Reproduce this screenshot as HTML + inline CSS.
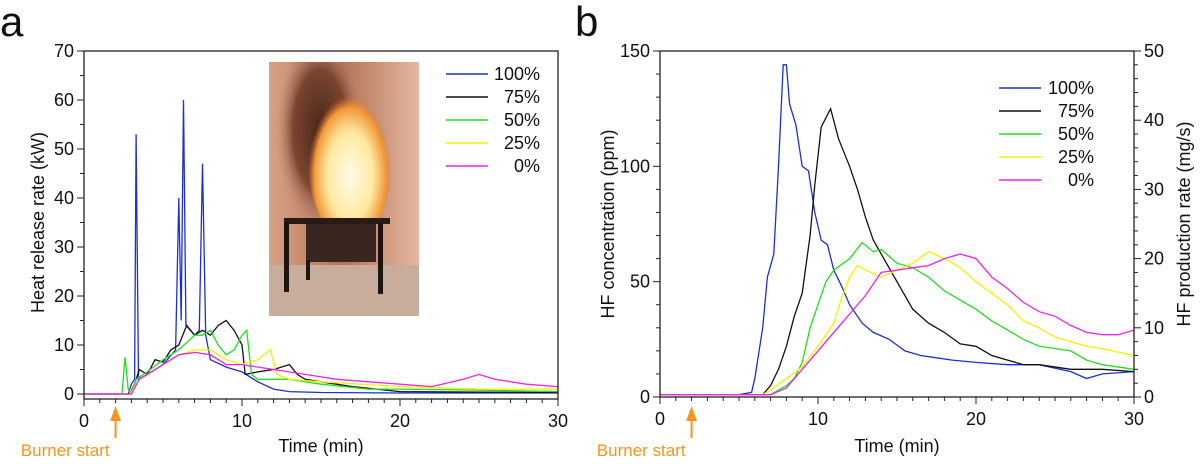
<!DOCTYPE html>
<html><head><meta charset="utf-8"><style>
body{margin:0;background:#fff;width:1200px;height:461px;overflow:hidden}
svg text{font-family:"Liberation Sans",Arial,sans-serif}
</style></head><body>
<svg id="chart" width="1200" height="461" viewBox="0 0 1200 461">
<defs>
<clipPath id="phclip"><rect x="269" y="62" width="150" height="254"/></clipPath>
<radialGradient id="smoke" cx="0.5" cy="0.5" r="0.5"><stop offset="0" stop-color="#4a2618"/><stop offset="0.6" stop-color="#7a4530"/><stop offset="1" stop-color="#c99078" stop-opacity="0"/></radialGradient>
<radialGradient id="flame" cx="0.5" cy="0.6" r="0.5"><stop offset="0" stop-color="#fffbe8"/><stop offset="0.55" stop-color="#ffe9a0"/><stop offset="0.85" stop-color="#f29a3a"/><stop offset="1" stop-color="#e07030" stop-opacity="0"/></radialGradient>
<linearGradient id="wall" x1="0" x2="1"><stop offset="0" stop-color="#d7a185"/><stop offset="0.5" stop-color="#b57559"/><stop offset="1" stop-color="#e3b8a0"/></linearGradient>
</defs>
<g id="pa"></g>
<g id="pb"></g>
</svg>
<script>
// Panel a data (time in min, HRR in kW)
const seriesNames = ["100%","75%","50%","25%","0%"];
const seriesColors = ["#1f2fd0","#111111","#22dd22","#f2f200","#ee22ee"];
const aBlueT=[0,2.8,3,3.2,3.3,3.45,4,5,5.8,6,6.15,6.3,6.45,7,7.3,7.5,7.7,8,9,10,11,12,13,15,20,30];
const aBlueV=[0,0,2,3,53,3,4,6,9,40,15,60,14,12,13,47,12,7,5.5,4.5,2.5,1,0.5,0.3,0.2,0.2];
const aBlackT=[0,2.9,3.2,3.5,4,4.5,5,5.5,6,6.5,7,7.5,8,8.5,9,9.5,10,10.2,11,12,13,13.5,14,15,17,20,30];
const aBlackV=[0,0,2,5,4,7,6.5,9,10,14,12,13,12,14,15,13,10,4,4.5,5,6,4,3,2.5,1.5,0.5,0.3];
const aGreenT=[0,2.4,2.6,2.8,3,3.3,4,5,6,7,7.5,8,8.5,9,9.5,10,10.3,10.6,11,12,13,15,18,20,25,30];
const aGreenV=[0,0,7.5,1,0,3,4.5,7,9,12,12,13,10,8,9,12,13,4,3,3,3,2,1,1,0.8,0.5];
const aYellowT=[0,2.9,3.5,4,5,6,7,8,9,10,11,11.8,12.2,13,15,20,25,30];
const aYellowV=[0,0,3,4,6,8,9,9,7,6,7,9,4,3,2.5,1.5,1,1];
const aMagT=[0,3,3.5,4,5,6,7,8,9,10,11,12,14,16,18,20,22,24,25,26,28,30];
const aMagV=[0,0,3,4,6,8,8.5,8,6,6,5.5,5,4,3,2.5,2,1.5,3,4,3,2,1.5];
// Panel b data (time in min, HF in ppm)
const bBlueT=[0,5,5.8,6,6.5,6.8,7.2,7.5,7.8,8,8.2,8.6,9,9.4,9.8,10.2,10.6,11,11.5,12,12.8,13.5,14.5,15.5,16.5,17.5,18.5,20,22,24,26,27,28,30];
const bBlueV=[1,1,2,8,30,52,62,100,144,144,127,118,100,98,80,68,66,55,48,40,32,28,25,20,18,17,16,15,14,14,11,8,10,11];
const bBlackT=[0,6.5,7,7.5,8,8.5,9,9.5,9.8,10.2,10.8,11.3,12,12.5,13,13.5,14,15,16,17,18,19,20,21,22,23,24,26,28,30];
const bBlackV=[1,1,5,12,22,35,45,70,92,117,125,112,100,90,78,68,62,50,38,32,28,23,22,18,16,14,14,12,12,11];
const bGreenT=[0,7,8,8.5,9,9.5,10,10.5,11,12,12.8,13.5,14,15,16,17,18,19,20,21,22,23,24,26,27,28,30];
const bGreenV=[1,1,5,8,15,30,40,50,55,60,67,63,64,58,56,52,46,42,38,33,29,25,22,20,16,14,12];
const bYellowT=[0,6.5,7,8,9,10,11,11.5,12,12.5,13,14,15,16,17,18,19,20,21,22,23,24,25,26,27,28,30];
const bYellowV=[1,1,3,8,13,22,32,43,52,57,55,52,55,58,63,60,56,50,45,40,33,30,26,24,22,21,18];
const bMagT=[0,7,8,9,10,11,11.5,12,13,14,15,16,17,18,19,20,21,22,23,24,25,26,27,28,29,30];
const bMagV=[1,1,4,12,20,28,32,36,44,54,55,56,57,60,62,60,52,47,41,37,35,31,28,27,27,29];
const aTicksY=[0,10,20,30,40,50,60,70];
const bTicksY=[0,50,100,150];
const bTicksR=[0,10,20,30,40,50];
const xTicks=[0,10,20,30];

const NS="http://www.w3.org/2000/svg";
function mk(p,tag,at,txt){const e=document.createElementNS(NS,tag);for(const k in at)e.setAttribute(k,at[k]);if(txt!==undefined)e.textContent=txt;p.appendChild(e);return e;}

function panel(g,o){
  const sx=t=>o.x0+(o.x1-o.x0)*t/30, sy=v=>o.y0-(o.y0-o.yTop)*v/o.ymax;
  o.series.forEach((s,i)=>{
    let d=s[0].map((t,j)=>(j?'L':'M')+sx(t).toFixed(1)+','+sy(s[1][j]).toFixed(1)).join('');
    const p=mk(g,'path',{d:d,fill:'none',stroke:seriesColors[i],'stroke-width':1.3});
    
    
  });
  const fr=mk(g,'rect',{x:o.x0,y:o.yTop,width:o.x1-o.x0,height:o.axisY-o.yTop,fill:'none',stroke:'#222','stroke-width':1.3});
  
  
  for(let t=0;t<=30;t++){const x=sx(t);mk(g,'line',{x1:x,x2:x,y1:o.axisY,y2:o.axisY+(t%10?4:7),stroke:'#222'});}
  xTicks.forEach(t=>{const e=mk(g,'text',{x:sx(t),y:o.axisY+28,'text-anchor':'middle','font-size':18,fill:'#111'},t);
    });
  for(let v=0;v<=o.ymax;v+=o.minor){const y=sy(v);const maj=v%o.major===0;mk(g,'line',{x1:o.x0,x2:o.x0-(maj?7:4),y1:y,y2:y,stroke:'#222'});}
  o.yTicks.forEach(v=>{const e=mk(g,'text',{x:o.x0-10,y:sy(v)+6,'text-anchor':'end','font-size':18,fill:'#111'},v);
    });
  if(o.right){
    const sr=v=>o.y0-(o.y0-o.yTop)*v/50;
    for(let v=0;v<=50;v+=2){const y=sr(v);mk(g,'line',{x1:o.x1,x2:o.x1+(v%10?4:7),y1:y,y2:y,stroke:'#222'});}
    bTicksR.forEach(v=>{const e=mk(g,'text',{x:o.x1+10,y:sr(v)+6,'text-anchor':'start','font-size':18,fill:'#111'},v);
      });
    const rt=mk(g,'text',{x:0,y:0,transform:`translate(1190,${(o.yTop+o.y0)/2}) rotate(-90)`,'text-anchor':'middle','font-size':18,fill:'#111'},'HF production rate (mg/s)');
    
  }
  const yt=mk(g,'text',{x:0,y:0,transform:`translate(${o.ytx},${(o.yTop+o.y0)/2}) rotate(-90)`,'text-anchor':'middle','font-size':18,fill:'#111'},o.ytitle);
  
  const xt=mk(g,'text',{x:(o.x0+o.x1)/2,y:452,'text-anchor':'middle','font-size':18,fill:'#111'},'Time (min)');
  
  const lt=mk(g,'text',{x:o.letterX,y:36,'font-size':42,fill:'#111'},o.letter);
  
  const ax=sx(2);
  const ar=mk(g,'path',{d:`M${ax},438 L${ax},416 M${ax-4},420 L${ax},409 L${ax+4},420 Z`,stroke:'#f7941d','stroke-width':2,fill:'#f7941d'});
  
  const bt=mk(g,'text',{x:ax-6,y:456,'text-anchor':'end','font-size':17,fill:'#f7941d'},'Burner start');
  
  const lg=mk(g,'g',{});
  
  seriesNames.forEach((n,i)=>{const y=o.legY+i*23;
    mk(lg,'line',{x1:o.legX,x2:o.legX+42,y1:y,y2:y,stroke:seriesColors[i],'stroke-width':1.5});
    const e=mk(lg,'text',{x:o.legTx,y:y+6,'text-anchor':'end','font-size':18,fill:'#111'},n);
    });
}
const pa=document.getElementById('pa'), pb=document.getElementById('pb');
const ph=mk(pa,'g',{'clip-path':'url(#phclip)'});

mk(ph,'rect',{x:269,y:62,width:150,height:254,fill:'url(#wall)'});
mk(ph,'ellipse',{cx:320,cy:130,rx:45,ry:100,fill:'url(#smoke)'});
mk(ph,'rect',{x:269,y:265,width:150,height:51,fill:'#c9ad9c'});
mk(ph,'ellipse',{cx:350,cy:160,rx:42,ry:80,fill:'url(#flame)'});
mk(ph,'rect',{x:284,y:218,width:106,height:6,fill:'#2a1a14'});
mk(ph,'rect',{x:306,y:224,width:70,height:38,fill:'#3a2620'});
mk(ph,'rect',{x:284,y:222,width:5,height:70,fill:'#1e1410'});
mk(ph,'rect',{x:378,y:222,width:5,height:72,fill:'#1e1410'});
mk(ph,'rect',{x:306,y:260,width:4,height:20,fill:'#1e1410'});

panel(pa,{x0:84,x1:558,y0:394,yTop:51,axisY:399,ymax:70,major:10,minor:5,yTicks:aTicksY,ytitle:'Heat release rate (kW)',ytx:44,letter:'a',letterX:0,
  legX:446,legY:74,legTx:540,series:[[aBlueT,aBlueV],[aBlackT,aBlackV],[aGreenT,aGreenV],[aYellowT,aYellowV],[aMagT,aMagV]]});
panel(pb,{x0:660,x1:1134,y0:397,yTop:51,axisY:397,ymax:150,major:50,minor:10,yTicks:bTicksY,ytitle:'HF concentration (ppm)',ytx:614,letter:'b',letterX:575,right:true,
  legX:999,legY:88,legTx:1094,series:[[bBlueT,bBlueV],[bBlackT,bBlackV],[bGreenT,bGreenV],[bYellowT,bYellowV],[bMagT,bMagV]]});
</script>
</body></html>
